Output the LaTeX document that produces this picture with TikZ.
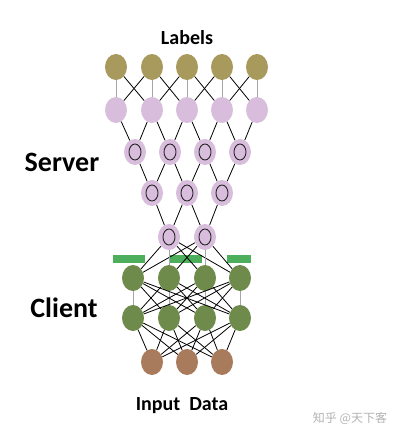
\documentclass[tikz,border=0pt]{standalone}
\usepackage{fontspec}
\setmainfont{Carlito}
\newfontfamily\cjk{Noto Sans CJK SC}
\usetikzlibrary{shapes.geometric}
\definecolor{labelc}{HTML}{A8995C}
\definecolor{pinkc}{HTML}{D8BEDC}
\definecolor{greenc}{HTML}{6E8B4B}
\definecolor{brownc}{HTML}{A97B5D}
\definecolor{barc}{HTML}{4DAE5B}
\begin{document}
\begin{tikzpicture}[x=1pt,y=-1pt,
  unit/.style={ellipse,minimum width=22pt,minimum height=26pt,inner sep=0pt},
  lab/.style={unit,fill=labelc},
  hid/.style={unit,fill=pinkc},
  cut/.style={unit,fill=pinkc,path picture={\draw[line width=0.9pt,black!85] (path picture bounding box.center) ellipse (6pt and 8pt);}},
  cli/.style={unit,fill=greenc},
  inp/.style={unit,fill=brownc},
  wire/.style={line width=0.8pt,black},
  vwire/.style={line width=1pt,gray!70},
  bar/.style={fill=barc,draw=none},
  title/.style={font=\bfseries\fontsize{20}{22}\selectfont},
  side/.style={font=\bfseries\fontsize{28}{30}\selectfont}]
  \useasboundingbox (0,0) rectangle (403,437);

  \node[title] (tlab) at (187,38) {Labels};
  \node[side] (tsrv) at (62,162) {Server};
  \node[side] (tcli) at (64,308) {Client};
  \node[title] (tinp) at (182,406) {Input\ \ Data};
  \node[font=\cjk\fontsize{12}{14}\selectfont,text=gray!60] (wm) at (350,418) {知乎 @天下客};

  % split bars
  \fill[bar] (113,255) rectangle (145,263);
  \fill[bar] (170,255) rectangle (202,263);
  \fill[bar] (227,255) rectangle (251,263);

  % server side
  \node[lab] (l1) at (116,67) {};
  \node[lab] (l2) at (152,67) {};
  \node[lab] (l3) at (187,67) {};
  \node[lab] (l4) at (222,67) {};
  \node[lab] (l5) at (257,67) {};

  \node[hid] (p1) at (116,110) {};
  \node[hid] (p2) at (152,110) {};
  \node[hid] (p3) at (187,110) {};
  \node[hid] (p4) at (222,110) {};
  \node[hid] (p5) at (257,110) {};
  \draw[vwire] (l1) -- (p1) (l2) -- (p2) (l3) -- (p3) (l4) -- (p4) (l5) -- (p5);
  \draw[wire] (l1) -- (p2) (l2) -- (p1) (l2) -- (p3) (l3) -- (p2);
  \draw[wire] (l3) -- (p4) (l4) -- (p3) (l4) -- (p5) (l5) -- (p4);

  \node[cut] (a1) at (135,152) {};
  \node[cut] (a2) at (170,152) {};
  \node[cut] (a3) at (205,152) {};
  \node[cut] (a4) at (240,152) {};
  \draw[wire] (p1) -- (a1) -- (p2) -- (a2) -- (p3) -- (a3) -- (p4) -- (a4) -- (p5);

  \node[cut] (b1) at (152,193) {};
  \node[cut] (b2) at (187,193) {};
  \node[cut] (b3) at (222,193) {};
  \draw[wire] (a1) -- (b1) -- (a2) -- (b2) -- (a3) -- (b3) -- (a4);

  \node[cut] (c1) at (169,237) {};
  \node[cut] (c2) at (205,237) {};
  \draw[wire] (b1) -- (c1) -- (b2) -- (c2) -- (b3);

  % client side
  \node[cli] (g1) at (133,278) {};
  \node[cli] (g2) at (169,278) {};
  \node[cli] (g3) at (205,278) {};
  \node[cli] (g4) at (240,278) {};
  \draw[wire] (c1) -- (g1) (c1) -- (g3) (c1) -- (g4);
  \draw[wire] (c2) -- (g1) (c2) -- (g2) (c2) -- (g4);
  \draw[vwire] (c1) -- (g2) (c2) -- (g3);

  \node[cli] (h1) at (133,318) {};
  \node[cli] (h2) at (169,318) {};
  \node[cli] (h3) at (205,318) {};
  \node[cli] (h4) at (240,318) {};
  \draw[vwire] (g1) -- (h1) (g2) -- (h2) (g3) -- (h3) (g4) -- (h4);
  \draw[wire] (g1) -- (h2) (g1) -- (h3) (g1) -- (h4);
  \draw[wire] (g2) -- (h1) (g2) -- (h3) (g2) -- (h4);
  \draw[wire] (g3) -- (h1) (g3) -- (h2) (g3) -- (h4);
  \draw[wire] (g4) -- (h1) (g4) -- (h2) (g4) -- (h3);

  \node[inp] (d1) at (152,362) {};
  \node[inp] (d2) at (187,362) {};
  \node[inp] (d3) at (222,362) {};
  \draw[wire] (h1) -- (d1) (h1) -- (d2) (h1) -- (d3);
  \draw[wire] (h2) -- (d1) (h2) -- (d2) (h2) -- (d3);
  \draw[wire] (h3) -- (d1) (h3) -- (d2) (h3) -- (d3);
  \draw[wire] (h4) -- (d1) (h4) -- (d2) (h4) -- (d3);
\end{tikzpicture}
\end{document}
